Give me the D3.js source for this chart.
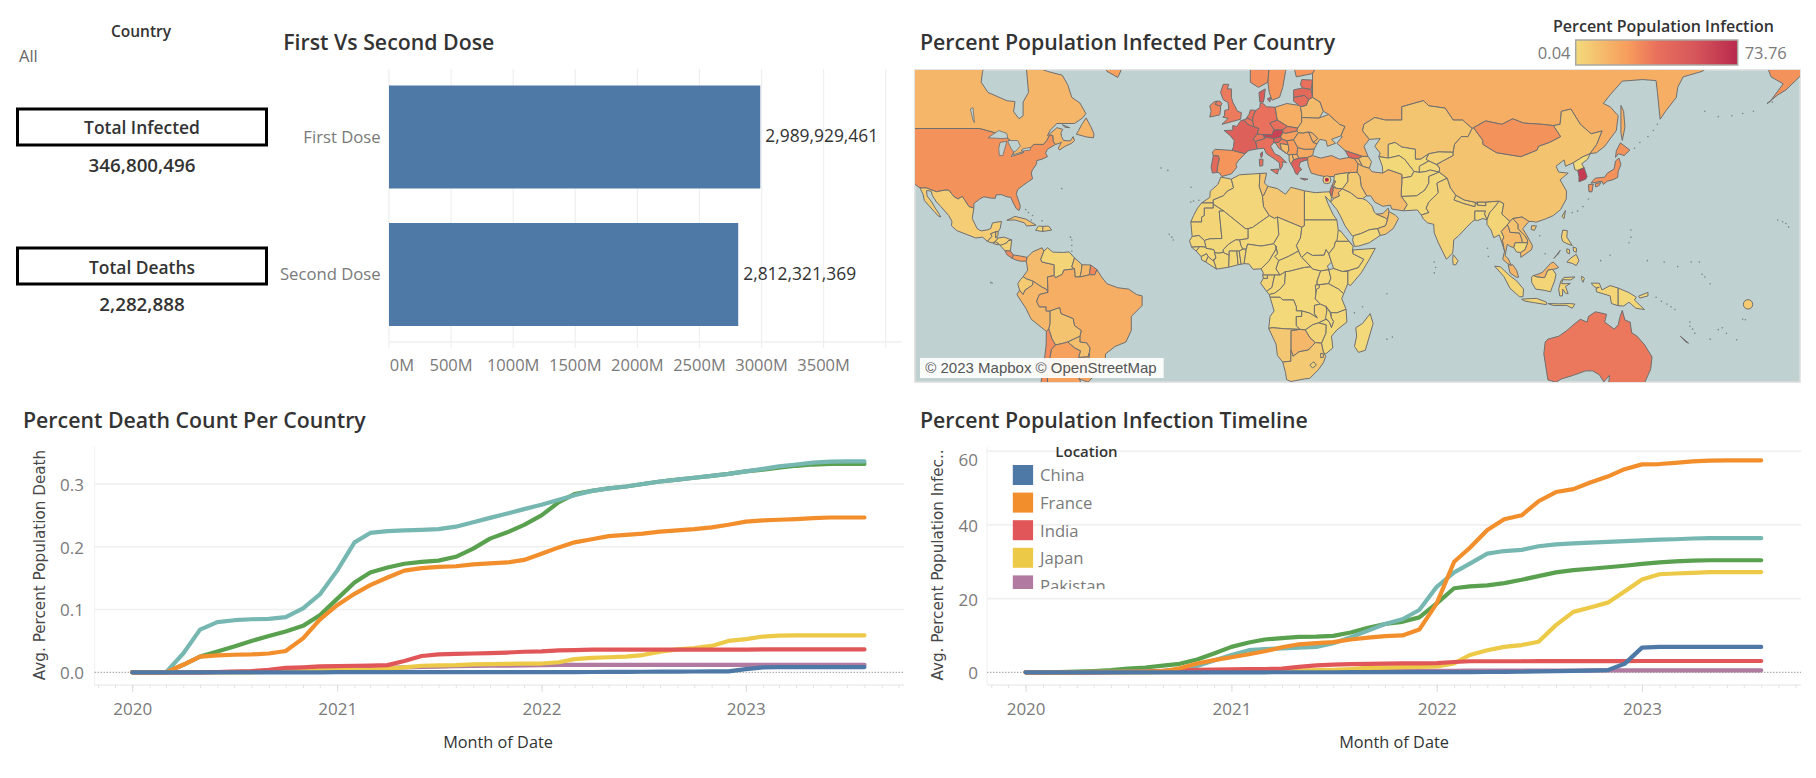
<!DOCTYPE html>
<html>
<head>
<meta charset="utf-8">
<script src="https://cdn.jsdelivr.net/npm/d3@7"></script>
<style>
  body { margin: 0; background: #fff; overflow: hidden; }
  text { font-family: "Open Sans", sans-serif; }
  .title { font-size: 21.3px; font-weight: 600; fill: #333; }
  .tick-label { font-size: 16.5px; fill: #7a7a7a; }
  .bold-label { font-size: 14.5px; font-weight: 600; fill: #333; }
  .axis-title { font-family: "DejaVu Sans", sans-serif; font-size: 15.2px; fill: #484848; }
</style>
</head>
<body>
<script>
// ---- data ----
var doseNames = ["First Dose", "Second Dose"];
var doseValues = [2989929461, 2812321369];
var doseTicks = [0, 500, 1000, 1500, 2000, 2500, 3000, 3500];

var kpiNames = ["Total Infected", "Total Deaths"];
var kpiValues = [346800496, 2282888];

var yearTicks = [2020, 2021, 2022, 2023];
var deathTicks = [0, 0.1, 0.2, 0.3];
var infectionTicks = [0, 20, 40, 60];

// Jan 2020 to Aug 2023, one value a month
var deathUK = [0,0,0,.03,.068,.080,.083,.0845,.085,.088,.102,.124, .162,.207,.222,.225,.226,.227,.228,.232,.239,.246,.253,.260, .267,.275,.282,.289,.293,.296,.300,.304,.307,.31,.313,.316, .32,.324,.328,.331,.334,.3355,.336,.336];
var deathUS = [0,0,0,.012,.025,.033,.041,.050,.058,.065,.074,.091, .117,.143,.159,.167,.173,.176,.178,.184,.197,.213,.223,.235, .25,.271,.284,.289,.293,.296,.30,.304,.307,.31,.313,.316, .32,.323,.326,.329,.331,.332,.332,.332];
var deathFrance = [0,0,0,.012,.025,.027,.028,.0285,.03,.034,.054,.084, .107,.125,.139,.151,.162,.166,.168,.169,.172,.1735,.175,.179, .189,.199,.207,.212,.217,.219,.221,.224,.226,.228,.231,.235, .24,.242,.243,.244,.2455,.2466,.2466,.2466];
var deathIndia = [0,0,0,0,0,.0005,.001,.002,.004,.007,.008,.0095, .010,.0105,.0108,.0115,.018,.026,.0285,.0295,.030,.0307,.0315,.0328, .0335,.035,.0355,.036,.036,.036,.036,.0362,.0362,.0362,.0363,.0363, .0363,.0364,.0364,.0365,.0365,.0365,.0365,.0365];
var deathJapan = [0,0,0,0,0,0,0,0,.0007,.001,.002,.003, .0035,.004,.0045,.006,.008,.0105,.011,.0115,.0127,.013,.0135,.0137, .014,.016,.021,.023,.024,.025,.0275,.033,.0365,.0385,.042,.05, .053,.057,.0585,.059,.059,.059,.059,.059];
var deathPakistan = [0,0,0,0,0,.0003,.0007,.001,.002,.003,.004,.005, .0058,.0062,.0065,.0072,.008,.0085,.0092,.0098,.0102,.0105,.0108,.011, .0113,.0117,.012,.012,.012,.012,.012,.012,.012,.012,.012,.012, .012,.012,.012,.012,.012,.012,.012,.012];
var deathChina = [0,0,0,0,0,0,0,0,0,0,0,0, .0002,.0002,.0002,.0002,.0002,.0002,.0002,.0002,.0002,.0002,.0002,.0002, .0003,.0003,.0004,.0005,.0006,.0007,.0009,.0011,.0012,.0013,.0014,.0015, .005,.008,.0083,.0083,.0083,.0083,.0083,.0083];

var infUK = [0,0,.01,.05,.1,.15,.2,.25,.3,.8,1.7,3.2, 4.7,6,6.3,6.5,6.7,6.9,7.9,9.5,11.3,13.1,14.4,16.9, 23.2,27.1,29.5,32.2,32.9,33.2,34.2,34.7,35,35.2,35.4,35.6, 35.8,36,36.1,36.3,36.4,36.4,36.4,36.4];
var infUS = [0,.02,.05,.2,.35,.6,1.0,1.3,1.8,2.3,3.5,5.1, 6.9,8.1,8.9,9.3,9.6,9.7,9.9,10.8,12.1,13.1,13.7,14.9, 18.7,22.8,23.3,23.6,24.2,25.1,26.1,27.1,27.7,28.1,28.5,28.9, 29.4,29.8,30.1,30.3,30.4,30.4,30.4,30.4];
var infFrance = [0,0,.01,.05,.1,.1,.12,.15,.3,1.1,2.4,3.3, 4.1,4.9,5.7,6.8,7.6,7.9,8.2,8.9,9.4,9.8,10,11.6, 18.7,30,33.8,38.6,41.5,42.6,46.4,48.9,49.7,51.5,53.1,55.1, 56.4,56.5,56.8,57.2,57.4,57.5,57.5,57.5];
var infIndia = [0,0,0,0,.01,.05,.1,.2,.4,.55,.7,.75, .8,.85,.9,1,1.5,1.9,2.1,2.2,2.3,2.35,2.4,2.4, 2.5,2.8,3,3,3,3,3.05,3.05,3.05,3.05,3.05,3.05, 3.07,3.07,3.07,3.07,3.07,3.07,3.07,3.07];
var infJapan = [0,0,0,0,0,0,0,.01,.02,.03,.05,.08, .1,.15,.2,.25,.5,.6,.7,.9,1.2,1.3,1.4,1.45, 1.6,2.4,4.7,6,6.9,7.4,8.3,12.8,16.4,17.6,18.9,21.9, 25.2,26.6,26.8,27,27.2,27.2,27.2,27.2];
var infPakistan = [0,0,0,0,.01,.03,.05,.07,.09,.1,.12,.14, .16,.18,.2,.22,.25,.28,.3,.32,.34,.36,.37,.38, .4,.42,.45,.46,.47,.48,.49,.5,.5,.51,.52,.52, .53,.54,.55,.55,.55,.55,.55,.55];
var infChina = [0,0,0,0,0,0,0,0,0,0,0,0, .01,.01,.01,.02,.02,.02,.02,.03,.03,.03,.03,.04, .05,.05,.06,.08,.1,.15,.25,.3,.4,.45,.6,2.3, 6.7,6.9,6.9,6.9,6.9,6.9,6.9,6.9];

var legendNames = ["China", "France", "India", "Japan", "Pakistan"];
var lineNames = ["Pakistan", "United States", "United Kingdom", "Japan", "India", "France", "China"];
var lineColors = ["#b07aa1", "#59a14f", "#76b7b2", "#edc948", "#e15759", "#f28e2b", "#4e79a7"];
var deathSeries = [deathPakistan, deathUS, deathUK, deathJapan, deathIndia, deathFrance, deathChina];
var infSeries = [infPakistan, infUS, infUK, infJapan, infIndia, infFrance, infChina];

// percent of population infected, by country, judged from the map shading
var legendRange = [0.04, 73.76];
var infectedByCountry = {
  USA:27, Canada:14, Alaska:27, Greenland:22, Mexico:5, Guatemala:5, Belize:9, Honduras:4, Salvador:3, Nicaragua:3,
  CostaRica:30, Panama:24, Cuba:9, Haiti:1, Dominican:6, Colombia:12, Venezuela:2, Guyana:9, Suriname:13, FrGuiana:30,
  Ecuador:6, Peru:13, Brazil:17, Bolivia:9, Paraguay:10, Chile:28, Argentina:22, Uruguay:22,
  UK:34, Ireland:30, France:48, Spain:26, Portugal:42, Belgium:36, Netherlands:40, Germany:37, Denmark:50, Switzerland:36,
  Austria:63, Italy:38, Poland:17, Czechia:38, Slovakia:33, Hungary:22, Slovenia:46, Croatia:32, Bosnia:12, Serbia:24,
  Albania:12, NMacedonia:16, Greece:48, Bulgaria:19, Romania:18, Moldova:16, Ukraine:13, Belarus:12, Lithuania:40,
  Latvia:42, Estonia:37, Norway:28, Sweden:26, Finland:26, Turkey:20, Georgia:44, Armenia:15, Azerbaijan:8, Russia:17,
  Kazakhstan:8, Uzbekistan:1, Turkmenistan:1, Kyrgyzstan:3, Tajikistan:1, Afghanistan:1, Pakistan:1, Iran:12, Iraq:6,
  Syria:1, Jordan:17, Israel:45, Lebanon:18, Cyprus:73.76, Saudi:2.5, UAE:11, Oman:8, Yemen:.5,
  Morocco:3, WSahara:2, Algeria:1.5, Mauritania:2, Mali:1, Tunisia:9, Libya:7, Egypt:1, Sudan:1, SouthSudan:1, Eritrea:1,
  Ethiopia:1, Somalia:1, Chad:.5, Niger:.5, Senegal:1, GuineaBissau:1, Guinea:1, SierraLeone:1, Liberia:1, IvoryCoast:1,
  Burkina:1, Ghana:1, Togo:1, Benin:1, Nigeria:.5, Cameroon:1, CAR:1, Gabon:2, EqGuinea:1, Congo:1, DRC:.5, Uganda:.5,
  Kenya:.8, Rwanda:1, Tanzania:.5, Angola:.5, Zambia:2, Malawi:.5, Mozambique:1, Zimbabwe:2, Botswana:13, Namibia:7,
  SouthAfrica:6.5, Lesotho:2, Eswatini:6, Madagascar:.5,
  India:3, SriLanka:3, Nepal:3, Bhutan:3, Bangladesh:1, Myanmar:2, China:9, Mongolia:27, NKorea:.1, SKorea:66, Japan:27,
  Taiwan:3, Thailand:12, Laos:9, Vietnam:12, Cambodia:1, Malaysia:14, Indonesia:2, PNG:1, Philippines:3, Australia:35,
  NewCaledonia:30
};

// country outlines as "lon,lat" rings (longitudes past 180 are the wrapped far right of the map)
var countryRings = {
  USA:["-125,49 -95,49 -89.5,48 -84.5,46.5 -82.5,45.3 -82.4,43 -83,42 -79,42.8 -79,43.5 -76.5,44 -75,45 -71.5,45 -70.3,46 -69.2,47.4 -68,47.3 -67.8,45.7 -67,45 -70,43.7 -70.7,42.7 -70,41.7 -72,41 -74,40.6 -74,39.7 -75.5,38 -76,37 -75.5,35.3 -77,34.5 -79,33.3 -81,32 -81.5,30.5 -80.5,28 -80,26.5 -80.5,25.2 -81.5,25.8 -82.8,28 -83.5,29.5 -85,29.7 -87,30.4 -89,30.3 -89.3,29.2 -91,29.3 -93.5,29.7 -95,29 -97.2,27.5 -97.2,26 -99,26.5 -100.5,28.5 -101.5,29.8 -103,29 -104.5,29.7 -106.5,31.8 -108.2,31.8 -111,31.3 -114.8,32.5 -117.1,32.5 -120.5,34.5 -122.5,37.5 -124.3,40 -124,44 -124.7,48.4"],
  Canada:["-141,72 -141,60 -130,55 -123,49 -95,49 -89.5,48 -84.5,46.5 -82.5,45.3 -82.4,43 -83,42 -79,42.8 -79,43.5 -76.5,44 -75,45 -71.5,45 -70.3,46 -69.2,47.4 -68,47.3 -67.8,45.7 -67,45 -65.5,45.3 -64.8,45.6 -66,44 -65.5,43.5 -63.5,44.5 -61,45.3 -60,46 -60.5,47 -61.5,45.9 -64,46 -64.8,47 -65,48 -64.3,48.8 -66.5,49.2 -70,47.2 -69,48.6 -66.5,50.2 -60,50.2 -57,51.5 -55.8,52.5 -58,54.8 -61,56 -62.5,58.5 -64.5,60.3 -70,61 -78,62.5 -77.5,60 -77,57 -79,55 -79,52 -80.5,51.3 -82.5,52.9 -82,55.1 -85,55.3 -92,57 -94.5,59 -94,61 -90,64 -90,72",
    "-59.3,47.6 -55.5,46.9 -53,46.7 -52.8,47.7 -54,49.5 -55.7,51.5 -57.3,50 -58.5,48.5", "-64.5,49.9 -61.8,49.2 -63.5,49.3"],
  Alaska:["195,72 194,65 196,62 197.5,60 202,58.7 197,55 196,54.7 200,56.5 203,57.5 206,59 208,60 212,60 219,60 219,72"],
  Greenland:["-53,67 -51,63 -48,61 -44,59.9 -42,62 -30,68 -20,72 -50,72"],
  Mexico:["-117.1,32.5 -114.8,32.5 -111,31.3 -108.2,31.8 -106.5,31.8 -104.5,29.7 -103,29 -101.5,29.8 -100.5,28.5 -99,26.5 -97.2,26 -97.8,22.5 -96,19 -94.5,18.2 -92,18.6 -91,19 -90.3,21 -87,21.5 -87.5,19 -88.2,18 -89.1,17.9 -91,17.2 -90.5,16.3 -92.2,14.5 -94,16 -96.5,15.7 -100,17 -103.5,18.3 -105.5,20 -105.3,21.5 -106.5,23.5 -109.4,26.5 -111,28 -112.5,30 -113,31.5 -114.7,31.7 -114.5,30 -112.8,28 -111.5,26 -110,24 -109.5,23 -110.3,23.3 -112,25 -114,27 -115.5,28.5 -116,30.5"],
  Guatemala:["-92.2,14.5 -90.5,16.3 -91,17.2 -89.1,17.9 -89.2,15.9 -88.2,15.7 -89.3,14.4 -90.5,13.9"],
  Belize:["-89.1,17.9 -88.2,18 -88.3,16.5 -89.2,15.9"],
  Honduras:["-89.3,14.4 -88.2,15.7 -86,16 -83.2,15 -84.5,14.7 -85,14 -87,13 -87.8,13.4"],
  Salvador:["-90,13.7 -89.3,14.4 -87.8,13.4 -88,13.2"],
  Nicaragua:["-87.5,13 -85,14 -84.5,14.7 -83.2,15 -83.7,11 -85.7,11.1"],
  CostaRica:["-85.7,11.1 -83.7,11 -82.6,9.6 -83,8.3 -85,9.7"],
  Panama:["-83,8.3 -82.6,9.6 -80,9.2 -77.5,8.7 -77.8,7.3 -80,7.3 -81.5,7.7"],
  Cuba:["-85,21.9 -82,23.2 -78,22.3 -74.2,20.2 -77.7,19.9 -78.5,21 -82,22"],
  Haiti:["-74.4,18.4 -71.7,18 -71.7,19.8 -73.3,19.9"],
  Dominican:["-71.7,18 -68.4,18.5 -69.6,19.9 -71.7,19.8"],
  Colombia:["-77.5,8.7 -75.5,10.7 -72,12.2 -71.3,11 -72.5,8 -72,7 -67.5,6 -67.5,2 -70,1.5 -69.8,-4.2 -70.5,-3 -72,-2.3 -75.3,-.1 -77.8,.8 -79,1.6 -77.3,4 -77.8,7.3"],
  Venezuela:["-71.3,11 -70,12.2 -68,10.6 -64,10.5 -62,10.7 -60,8.5 -61,5.2 -60,4.5 -64,4 -64.5,2.5 -67,1.2 -67.5,2 -67.5,6 -72,7 -72.5,8"],
  Guyana:["-60,8.5 -57.2,6 -57.5,3.5 -58,1.5 -59.8,1.5 -60,4.5 -61,5.2"],
  Suriname:["-57.2,6 -54,5.9 -54.5,2.3 -56,1.9 -58,1.5 -57.5,3.5"],
  FrGuiana:["-54,5.9 -51.7,4.2 -52.5,2.3 -54.5,2.3"],
  Ecuador:["-79,1.6 -77.8,.8 -75.3,-.1 -75.5,-1.5 -78.3,-3.4 -79,-5 -80.3,-3.4 -81,-1 -80,.5"],
  Peru:["-80.3,-3.4 -79,-5 -78.3,-3.4 -75.5,-1.5 -75.3,-.1 -72,-2.3 -70.5,-3 -69.8,-4.2 -73,-5 -74,-7.5 -73,-9.5 -70.5,-9.5 -70.5,-11 -69,-11 -69,-15.5 -69.5,-17.5 -70.4,-18.3 -76,-14 -78,-10 -81.3,-5"],
  Brazil:["-51.7,4.2 -50,1.5 -48,-1 -44,-2.5 -40,-3 -37,-5 -35,-5.5 -35,-9 -39,-13 -39,-18 -41,-22 -45,-23.5 -48.5,-26 -48.7,-28.5 -52,-32.5 -53.5,-33.7 -53.2,-32.7 -55,-31 -57.7,-30.2 -54.5,-27 -54.5,-25.6 -54.3,-24 -55.5,-22.3 -58,-22 -58,-20 -57.5,-18 -60,-16.3 -60.5,-13.8 -65,-12 -65.5,-9.8 -69,-11 -70.5,-11 -70.5,-9.5 -73,-9.5 -74,-7.5 -73,-5 -69.8,-4.2 -70,1.5 -67.5,2 -67,1.2 -64.5,2.5 -64,4 -60,4.5 -59.8,1.5 -58,1.5 -56,1.9 -54.5,2.3 -52.5,2.3"],
  Bolivia:["-69,-11 -65.5,-9.8 -65,-12 -60.5,-13.8 -60,-16.3 -57.5,-18 -58,-20 -62.5,-22 -64.5,-22.5 -67,-23 -68.3,-21 -69.5,-17.5 -69,-15.5"],
  Paraguay:["-58,-20 -58,-22 -55.5,-22.3 -54.3,-24 -54.5,-25.6 -55,-27 -58.5,-27.2 -57.8,-25 -60,-24 -62.5,-22"],
  Chile:["-70.4,-18.3 -69.5,-17.5 -68.3,-21 -67,-23 -68.5,-24.5 -69,-27 -70,-31 -70,-34 -70,-38 -73,-38 -72,-33 -71.5,-30 -71,-27 -70.5,-23"],
  Argentina:["-67,-23 -64.5,-22.5 -62.5,-22 -60,-24 -57.8,-25 -58.5,-27.2 -55,-27 -54.5,-25.6 -54.5,-27 -57.7,-30.2 -58.3,-34 -57,-36 -60,-38 -70,-38 -70,-34 -70,-31 -69,-27 -68.5,-24.5"],
  Uruguay:["-57.7,-30.2 -55,-31 -53.2,-32.7 -53.5,-33.7 -55,-35 -58.3,-34"],
  UK:["-5.5,50 -1.5,50.7 1.4,51.2 1.7,52.7 .3,53 -1.5,55 -2,56 -2,57.7 -3.5,57.7 -3,58.6 -5,58.6 -6,57 -5,55.5 -3.2,54.9 -3,53.4 -4.5,53.2 -4.5,52 -5.2,51.7 -3.2,51.4", "-8,54.5 -6,54.1 -5.5,54.7 -6.2,55.2 -7.4,55.2"],
  Ireland:["-10,51.7 -6.3,52.2 -6,53.5 -6,54.1 -8,54.5 -7.4,55.2 -8.5,55 -10,54.2 -9.5,53"],
  France:["-1.7,43.4 3,42.5 4.5,43.4 7.5,43.8 7,45.8 6,46.3 7.5,47.6 8.2,49 6.2,49.5 4.2,50 2.5,51 1.5,50.9 0,49.5 -1.5,49.7 -1.5,48.6 -4.7,48.5 -2.5,47.3 -1,46 -1.2,44.5", "8.7,42.5 9.5,43 9.5,42 9,41.4"],
  Spain:["-9,43 -8,43.7 -1.7,43.4 3,42.5 .5,40.5 -.3,39.5 0,38.7 -2,36.8 -5.5,36 -6.5,37.1 -7.4,37.2 -7,39.5 -6.5,41 -6.8,41.9 -8.7,42"],
  Portugal:["-8.7,42 -6.8,41.9 -6.5,41 -7,39.5 -7.4,37.2 -9,37 -9.5,38.7"],
  Belgium:["2.5,51.1 4.2,51.4 5.9,50.8 6.2,49.8 5.8,49.5 4.2,50"],
  Netherlands:["3.5,51.4 4.2,51.4 5.9,50.8 6,51.8 7,53.2 5,53.3 4.5,52.3"],
  Germany:["6,51.8 7,53.2 8.5,53.8 8.7,54.8 9.5,54.8 11,54 14.2,53.9 14.7,52 15,51 12.2,50.3 13.8,48.7 13,47.5 9.6,47.5 7.5,47.6 8.2,49 6.2,49.5 6.2,49.8 5.9,50.8"],
  Denmark:["8.5,55 8.2,57 10.5,57.7 10.2,56 9.8,55", "11.3,55.7 12.5,56 12.2,55"],
  Switzerland:["6,46.3 7,45.8 10.4,46.5 9.6,47.5 7.5,47.6"],
  Austria:["9.6,47.5 13,47.5 13.8,48.7 17,48.7 17,48 16.2,46.9 13.7,46.5 10.4,46.9"],
  Italy:["7,45.8 7.5,43.8 10,44 11,42.5 13.7,41.2 15.7,40 16,38 16.8,38.9 17,39.8 16.8,40.3 18.4,40 16,41.8 14,42.5 12.5,44.5 13.7,45.5 13.7,46.5 10.4,46.9 10.4,46.5", "12.5,38 15.5,38.2 15,36.7", "8.3,41 9.7,41 9.6,39.2 8.5,39"],
  Poland:["14.2,53.9 18.5,54.7 23,54.3 23.5,54 24,52.5 24,50.5 22.5,49.1 18.8,49.5 15,51 14.7,52"],
  Czechia:["12.2,50.3 15,51 18.8,49.5 17,48.7 13.8,48.7"],
  Slovakia:["17,48.7 18.8,49.5 22.5,49.1 22.2,48.4 18,47.8 17,48"],
  Hungary:["16.2,46.9 17,48 18,47.8 22.2,48.4 22.8,48 21,46.2 18.5,45.9 16.6,46.4"],
  Slovenia:["13.7,46.5 16.2,46.9 16.6,46.4 15.5,45.5 13.7,45.5"],
  Croatia:["13.7,45.5 15.5,45.5 16.6,46.4 18.5,45.9 19,44.9 16,45.2 16.5,43.7 18.5,42.5 15.5,44 14.5,45.2"],
  Bosnia:["16,45.2 19,44.9 19.3,43.5 18.5,42.5 16.5,43.7"],
  Serbia:["19,44.9 18.5,45.9 21,46.2 22.5,44.2 22.3,42.3 20.5,42.3 19.3,42.2 18.5,42.5 19.3,43.5"],
  Albania:["19.3,42.2 20.5,42.3 21,40.8 20,39.7 19.4,40.5"],
  NMacedonia:["20.5,42.3 22.3,42.3 23,41.3 21,40.8"],
  Greece:["20,39.7 21,40.8 23,41.3 26.2,41.5 26,40.8 23.5,40.2 23,39 24,38 23,37.5 22.5,36.5 21.7,36.9 21.2,38", "23.5,35.5 26.3,35.2 25,34.9"],
  Bulgaria:["22.5,44.2 25,43.7 28.6,43.8 28,42 26.2,41.5 23,41.3 22.3,42.3"],
  Romania:["22.8,48 24.5,47.9 26.5,48.2 28.2,45.5 29.7,45.2 28.6,43.8 25,43.7 22.5,44.2 21,46.2"],
  Moldova:["26.5,48.2 28,47.9 30,46.5 28.2,45.5"],
  Ukraine:["24,50.5 24,51.6 30.5,51.5 34,52.3 38,50 40,49.5 38.5,47.2 35,46.3 36.5,45.3 33.5,44.5 33,46 30.7,46.3 29.7,45.2 28.2,45.5 30,46.5 28,47.9 26.5,48.2 24.5,47.9 22.8,48 22.2,48.4 22.5,49.1"],
  Belarus:["23.5,54 24,52.5 24,51.6 30.5,51.5 32,53 30.8,55 28,56 26.6,55.6 25.7,54.3"],
  Lithuania:["21,56 25,56.4 26.6,55.6 25.7,54.3 23.5,54 23,54.3 21,55.2"],
  Latvia:["21,56 21,57.5 24.3,57.9 27.5,57.6 28,56 26.6,55.6 25,56.4"],
  Estonia:["23.5,58.5 24.3,57.9 27.5,57.6 28,59.4 24,59.5"],
  Norway:["5,59 5,62 12,66 22,72 12,62 11.5,59 8,58"],
  Sweden:["11.5,59 12,62 12,70 24,68 18,61 17,58 15.8,56 13,55.4 12,57"],
  Finland:["22,60 21,62 24,70 30,70 31,63 28,60.6"],
  Turkey:["26.2,41.5 28,42 31,41.3 35,42 38,41 41.5,41.5 43.5,41.2 44.8,39.7 44.5,37.2 42,37.2 38,36.8 36.2,36.5 36,36 32.5,36 30.5,36.3 27.5,37 26.5,39 26.2,40.2"],
  Georgia:["40,43.4 46.5,41.8 45,41.2 43.5,41.2 41.5,41.5"],
  Armenia:["43.5,41.2 45,41.2 46.5,39 44.8,39.7"],
  Azerbaijan:["45,41.2 46.5,41.8 48.5,41.8 49.8,40.3 49,38.4 46.5,39"],
  Russia:["28,59.4 28,56 30.8,55 32,53 34,52.3 38,50 40,49.5 38.5,47.2 39,47 37,45.3 40,43.4 46.5,41.8 48.5,41.8 47,44.5 49,46.3 47,48 46.5,48.5 47,50 51,51.6 55,51 61,51 61,54 69,55.3 71,54.2 77,53.7 80,51 83.5,51 87,49 87.5,49.2 92,50.8 98,50 102,51.3 106,50.3 113,50 117,49.7 119.5,50 120,53 123.5,53.5 127,50 131,47.7 135,48.4 133,45 131,43 130.6,42.5 133,42.8 136,44.5 140.3,48.5 141,52 138,54 135.5,54.7 138,56.5 142.5,59.2 150,59.5 155,59.3 155.5,57 156.5,51.2 158.5,53 162.5,56 163,58 165,60 172,61 178,63 180,65 190,66 190,72 30,72 30,70 31,63 28,60.6",
    "142,54.3 143,53 143.5,49.3 142.5,46 142,48 142,52"],
  Kazakhstan:["47,50 51,51.6 55,51 61,51 61,54 69,55.3 71,54.2 77,53.7 80,51 83.5,51 87,49 85.5,47 83,47 80.5,45 80,42.9 74.5,43 71,42.5 68,41 66,41 66,43.7 61,44.3 58.5,45.5 56,45 56,41.3 52.5,41.7 53,42.7 51,44.5 53,46.5 49,46.3 47,48 46.5,48.5"],
  Uzbekistan:["56,45 58.5,45.5 61,44.3 66,43.7 66,41 68,41 71,42.5 70,41 71,40.5 67.5,39 67.5,37.2 65.5,37.5 62,41 60,42 56,41.3"],
  Turkmenistan:["52.5,41.7 56,41.3 60,42 62,41 65.5,37.5 64.5,36 61,35.5 61,36.6 56,38 54,37 53.8,39"],
  Kyrgyzstan:["71,42.5 74.5,43 80,42.9 80,42 76,40.4 73.7,39.5 71,40.5 70,41"],
  Tajikistan:["67.5,39 71,40.5 73.7,39.5 75,38.5 74.8,37.3 71.5,37.9 70,37.5 67.5,37.2"],
  Afghanistan:["61,35.5 64.5,36 65.5,37.5 67.5,37.2 70,37.5 71.5,37.9 74.8,37.3 71,36 71,34 69.5,31.8 66.5,30 60.8,29.8 60.8,31.5 61,34"],
  Pakistan:["60.8,29.8 66.5,30 69.5,31.8 71,34 71,36 74.8,37.3 77.8,35.5 74,34 74.5,31 71,28 70,26 71,24.5 68.2,23.7 66.7,25.4 61.6,25.1 63,27.2"],
  Iran:["44.8,39.7 46.5,39 49,38.4 50,37.4 54,37 56,38 61,36.6 61,35.5 61,34 60.8,31.5 60.8,29.8 63,27.2 61.6,25.1 57.3,25.7 56.8,27 54,26.6 51,28 49.5,30 48,30 46,33 45.5,36 44.5,37.2"],
  Iraq:["44.5,37.2 45.5,36 46,33 48,30 46.5,29.1 44.7,29.2 42,31 39,32.2 41,34.5 41,36.7 42,37.2"],
  Syria:["36.2,36.5 38,36.8 42,37.2 41,36.7 41,34.5 39,32.2 36.8,32.4 35.8,33.3 36.5,34.6 35.9,34.6 36,36"],
  Jordan:["36.8,32.4 39,32.2 37.5,31 38,30 36,29.2 35,29.5 35.5,31.5 35.6,32.7"],
  Israel:["34.3,31.3 35,29.5 35.5,31.5 35.6,33.2 35,33"],
  Lebanon:["35.1,33.1 35.8,33.3 36.5,34.6 35.9,34.6"],
  Saudi:["36,29.2 38,30 37.5,31 39,32.2 42,31 44.7,29.2 46.5,29.1 48,28.5 50,26.7 50.8,24.7 51.6,24 55,22.7 55.7,22 55,20 52,19 49,18.6 46,17.3 43.2,16.5 42.7,16.4 40,20 38.5,23 37,25.5 34.7,28"],
  UAE:["51.6,24 54,24.2 56,26 56.3,24.8 55.7,22 55,22.7"],
  Oman:["56.3,24.8 58.7,23.6 59.8,22.5 57.8,19 55,17 53,16.6 52,19 55,20 55.7,22"],
  Yemen:["43.2,16.5 46,17.3 49,18.6 52,19 53,16.6 49,14 45,12.8 43.5,12.7 42.8,15"],
  Morocco:["-5.9,35.8 -2,35.2 -1.2,32.5 -3.5,31.5 -5,30 -8.7,28.7 -8.7,27.7 -13,27.7 -10,29.5 -9.8,31.5 -7,33.6"],
  WSahara:["-13,27.7 -8.7,27.7 -8.7,26 -12,26 -12,23.5 -13,23 -13,21.3 -17,21.3 -16,23.5 -14.5,26"],
  Algeria:["-2,35.2 1,36.5 8.6,36.9 8.3,33 9.5,30 9.9,26.5 12,23.5 5.8,19.4 4.2,19 3.2,19 -4.8,25 -8.7,27.3 -8.7,28.7 -5,30 -3.5,31.5 -1.2,32.5"],
  Mauritania:["-17,21.3 -13,21.3 -13,23 -12,23.5 -12,26 -8.7,26 -8.7,27.3 -4.8,25 -6.5,25 -5.5,15.5 -10,15.4 -12,14.8 -14,16.6 -16.5,16.2"],
  Mali:["-12,14.8 -10,15.4 -5.5,15.5 -6.5,25 -4.8,25 3.2,19 4.2,19 4.2,15.5 1,15 -.5,15 -3,13.5 -5,11.5 -5,10.5 -7,10.2 -8.2,10.5 -8.5,11.5 -11.4,12"],
  Tunisia:["8.6,36.9 11,37 10.2,34 11.5,33 10,30.2 9.5,30 8.3,33"],
  Libya:["9.5,30 10,30.2 11.5,33 15,32.3 18,30.5 20,32.7 25,31.6 25,20 24,19.5 15,23 14,22.5 12,23.5 9.9,26.5"],
  Egypt:["25,31.6 29,31 32,31.2 34.3,31.3 35,29.5 34.7,28 32.7,29.9 33.7,27.5 35.5,24 37,22 25,22"],
  Sudan:["25,22 37,22 37.5,18.5 38.5,18 37,14.5 36.5,14.5 36,12.5 34,10 33,11.5 32.3,9.5 28,9.4 26,10.5 24,8.7 23.7,9 22.8,11 22,13 23.5,15.7 24,19.5 25,20"],
  SouthSudan:["24,8.7 26,10.5 28,9.4 32.3,9.5 33,11.5 34,10 35,7 33.5,5.5 34,4.2 31,3.7 28,4.4 27.4,5.2"],
  Eritrea:["37.5,18.5 38.5,18 43,12.7 41.5,14.5 37,14.5"],
  Ethiopia:["36.5,14.5 37,14.5 41.5,14.5 43,12.7 42.7,11 43,10 47,8 44.9,4.9 41.9,4 39,3.5 35.8,4.6 35,7 34,10 36,12.5"],
  Somalia:["43,11.4 51.2,12 49,8 46,3 42,-1.7 41,-1 41,3.5 41.9,4 44.9,4.9 47,8 43,10"],
  Chad:["15,23 24,19.5 23.5,15.7 22,13 22.8,11 19,9 15.5,7.5 14,9 15,10 14.5,12.8 13.5,13.6 15.5,16.9"],
  Niger:["4.2,19 5.8,19.4 12,23.5 14,22.5 15,23 15.5,16.9 13.5,13.6 9,12.8 4,13.5 3.5,11.7 2.3,11.7 1.5,13 1,15 4.2,15.5"],
  Senegal:["-17.5,14.7 -16.5,16.2 -14,16.6 -12,14.8 -11.4,12.4 -13.7,12.6 -16.7,12.4"],
  GuineaBissau:["-16.7,12.4 -13.7,12.6 -15,11"],
  Guinea:["-13.7,12.6 -11.4,12.4 -11.4,12 -8.5,11.5 -8.2,10.5 -7.7,8.5 -9,7.6 -10.6,9 -11.2,10 -13.2,9 -15,11"],
  SierraLeone:["-13.2,9 -11.2,10 -10.6,9 -11.5,7 -13,7.8"],
  Liberia:["-11.5,7 -10.6,9 -9,7.6 -8.5,7.5 -7.5,4.4"],
  IvoryCoast:["-8.5,7.5 -7.7,8.5 -8.2,10.5 -7,10.2 -5,10.5 -2.8,9.5 -3,5.1 -7.5,4.4"],
  Burkina:["-5,10.5 -5,11.5 -3,13.5 -.5,15 1,15 1.5,13 2.3,11.7 .9,11 0,11 -2.8,11 -2.8,9.5"],
  Ghana:["-2.8,11 0,11 .5,6 -3,5.1 -2.8,9.5"],
  Togo:["0,11 .9,11 1.6,6.2 .5,6"],
  Benin:[".9,11 2.3,11.7 3.5,11.7 2.7,6.4 1.6,6.2"],
  Nigeria:["2.7,6.4 3.5,11.7 4,13.5 9,12.8 13.5,13.6 14.5,12.8 14.5,11.7 12,7.5 9,4.5 6,4.3 4.5,6.3"],
  Cameroon:["9,4.5 12,7.5 14.5,11.7 14.5,12.8 15,10 14,9 15.5,7.5 14.5,4.5 16,2.2 11.3,2.2 9.6,2.2 9.8,3"],
  CAR:["14.5,4.5 15.5,7.5 19,9 22.8,11 23.7,9 24,8.7 27.4,5.2 25,5 19,3.5 18,3.5 16,2.2"],
  Gabon:["9.8,1 11.3,1 11.3,2.2 14,2.2 13,-2.4 11,-3.8 8.8,-.8"],
  EqGuinea:["9.6,2.2 11.3,2.2 11.3,1 9.8,1"],
  Congo:["14,2.2 16,2.2 18,3.5 17.7,-1 16,-3 14,-4.5 12,-5 11,-3.8 13,-2.4"],
  DRC:["18,3.5 19,3.5 25,5 27.4,5.2 28,4.4 31,3.7 29.7,0 29.5,-3 29,-6.5 30.8,-8.5 28.7,-9 28.7,-12 29.8,-13.5 27,-11.8 24,-11 22,-11 22,-9.5 21,-7 17,-7 16,-6 12.3,-6 12,-5 14,-4.5 16,-3 17.7,-1"],
  Uganda:["31,3.7 34,4.2 34.8,1 33.9,-1 29.7,-1.4 29.7,0"],
  Kenya:["34,4.2 35.8,4.6 39,3.5 41,3.5 41,-1 39.5,-4.7 37.6,-3 33.9,-1 34.8,1"],
  Rwanda:["29,-1.5 30.5,-1.4 30.7,-2.5 30.5,-4.4 29.3,-4.4"],
  Tanzania:["33.9,-1 37.6,-3 39.5,-4.7 38.8,-6.5 40.4,-10.4 37,-11.7 34.8,-11.6 33,-9.4 30.8,-8.5 29,-6.5 29.5,-3 30.5,-2.5 30.5,-1.4"],
  Angola:["12.3,-6 16,-6 17,-7 21,-7 22,-9.5 22,-11 24,-11 24,-13 22,-13 22,-16.3 23.4,-17.6 18,-17.4 13,-17 11.8,-17.3 12.3,-13 13.8,-11"],
  Zambia:["22,-13 24,-13 24,-11 27,-11.8 29.8,-13.5 28.7,-12 28.7,-9 30.8,-8.5 33,-9.4 33.3,-11 33,-14 30.2,-15.3 28,-16 25.3,-17.8 23.4,-17.6 22,-16.3"],
  Malawi:["33,-9.4 34.5,-11.6 35,-13.5 35.8,-14.8 35,-17 34.2,-15 32.8,-13.5 33.3,-11"],
  Mozambique:["34.8,-11.6 37,-11.7 40.4,-10.4 40.7,-15 37,-17.8 35,-20 35.5,-24 32.9,-26 32,-25.5 31.3,-22.4 32.9,-19 33,-16 30.2,-15.3 33,-14 34.2,-15 35,-17 35.8,-14.8 35,-13.5"],
  Zimbabwe:["25.3,-17.8 28,-16 30.2,-15.3 33,-16 32.9,-19 31.3,-22.4 29,-22.2 27,-20.5"],
  Botswana:["20,-22 20,-18 23.4,-17.6 25.3,-17.8 27,-20.5 29,-22.2 26.5,-24.7 23,-25.3 20.8,-26.8 20,-24.7"],
  Namibia:["11.8,-17.3 13,-17 18,-17.4 23.4,-17.6 20,-18 20,-24.7 20,-28.4 17,-28.7 15,-26.5 14.5,-22.7"],
  SouthAfrica:["17,-28.7 20,-28.4 20,-24.7 20.8,-26.8 23,-25.3 26.5,-24.7 29,-22.2 31.3,-22.4 32,-25.5 32.9,-26.8 32,-28.9 30,-31.3 27,-33.8 25,-34 20,-34.8 18.4,-34.2 18,-32"],
  Lesotho:["27,-29.6 28.5,-28.6 29.4,-29.7 28,-30.6"],
  Eswatini:["31,-25.8 32,-26 32,-27.2 31,-27.2"],
  Madagascar:["49.3,-12 50.4,-15.5 47.5,-24.8 45,-25.5 43.5,-23.5 44.3,-20 44,-17 46.5,-15.5"],
  India:["68.2,23.7 71,24.5 70,26 71,28 74.5,31 74,34 77.8,35.5 79,32.5 81,30.2 80.3,28.7 84,27.5 88,26.5 88.2,27.9 89,27 92,26.8 92,28 97,28.3 95,26 93.5,24.5 92.5,22 91.5,24.2 92,25 88,25 88,22 87,21.4 85,19.5 82,16.5 80.2,15 80,12 79.8,10.3 77.5,8 76,11 74.5,14 73,17.5 72.8,20.5 70.5,21 69,22.3"],
  SriLanka:["80,9.7 81.8,7.5 81,6 80,6 79.8,8"],
  Nepal:["80.3,28.7 81,30.2 84,28.7 88.2,27.9 88,26.5 84,27.5"],
  Bhutan:["89,27 89,28 92,28 92,26.8"],
  Bangladesh:["88,25 92,25 91.5,24.2 92.5,22 91,22.5 89,21.8 88,22"],
  Myanmar:["92.5,22 93.5,24.5 95,26 97,28.3 98.7,27.5 98,24 101,21.5 100,20.3 97.8,18 98.7,16 98.2,14.8 99,11 98,14 97,16.8 95,15.8 94,18.5 92.5,20.5"],
  China:["74,39.5 76,40.4 80,42 80,42.9 80.5,45 83,47 85.5,47 87,49 87.5,49.2 91,46 91,45 96,42.8 105,41.7 111,43.5 111.5,44.5 115.5,45.5 119.7,47 117,49.7 119.5,50 120,53 123.5,53.5 127,50 131,47.7 135,48.4 133,45 131,43 130.6,42.5 128,41.7 124.4,40 121.5,39 121,40.8 118,39 119,37.3 122.5,37 119.5,35 121.9,31.5 121.8,29 119.7,25.5 117,23.5 114,22.3 110.5,21.2 109.6,21.5 108,21.5 105.5,23 102,22.5 101,21.5 98,24 98.7,27.5 97,28.3 92,28 89,28 88.2,27.9 84,28.7 81,30.2 79,32.5 77.8,35.5 74.8,37.3 75,38.5", "109,20 110.8,20 110,18.4 108.8,18.7"],
  Mongolia:["87.5,49.2 92,50.8 98,50 102,51.3 106,50.3 113,50 117,49.7 119.7,47 115.5,45.5 111.5,44.5 111,43.5 105,41.7 96,42.8 91,45 91,46"],
  NKorea:["124.4,40 128,41.7 130.6,42.5 129.7,41 127.5,39.7 128.4,38.6 126,37.8 125,38"],
  SKorea:["126,37.8 128.4,38.6 129.5,36 129,35.2 126.5,34.4 126.5,36"],
  Japan:["130.9,34 132.5,35.5 136,35.8 137,37 139.5,38.2 140,40.5 141.3,41.3 142,39.5 141,37.5 140.8,35.7 139,35 137,34.6 135.5,33.6 135,34.6 132.5,34.2", "130,33.5 131.8,33.7 131.3,31.3 130.2,31.3", "132.5,33.8 134.6,34.2 134,33.3 132.7,32.8", "140,41.5 140.3,43.3 141.8,45.4 145.3,43.5 143.2,42 141,42.5"],
  Taiwan:["121.5,25.2 121,22.5 120.2,23.2"],
  Thailand:["97.8,18 100,20.3 100.5,19.5 101,17.7 104.5,17.5 105.5,15 105.5,14 102.9,14 102.4,12.2 101,12.7 100,13.5 99.5,11 99.2,9.3 100.3,8.3 101,6.8 101.5,5.8 100,6.5 98.3,8 99,11 98.2,14.8 98.7,16"],
  Laos:["100.5,19.5 100,20.3 101,21.5 102,22.5 104,20.5 104,19 106.5,16.5 107.5,15 107.5,14 105.5,14 105.5,15 104.5,17.5 101,17.7"],
  Vietnam:["102,22.5 105.5,23 108,21.5 105.7,19 107,17 109.3,13 109,11.5 105,8.7 104.9,10.5 106.5,11.5 107.5,14 107.5,15 106.5,16.5 104,19 104,20.5"],
  Cambodia:["102.4,12.2 102.9,14 105.5,14 107.5,14 106.5,11.5 104.9,10.5 103.5,10.6"],
  Malaysia:["100.3,6 101.5,5.8 102,6 103.4,4 104.2,1.4 103.3,1.4 101,3", "109.6,2 111,1.5 113.8,1.2 115,4 116.7,4.3 118,4.5 119,5 117,7 116,6.5 113,3.2 111.3,2.5"],
  Indonesia:["109,1.5 109.6,2 111,1.5 113.8,1.2 115,4 116.7,4.3 118,2.5 117.5,0 116.5,-2.5 116,-4 114,-3.5 110.5,-3 109,-.5",
    "95.3,5.5 97.5,5.2 100.5,2.3 103.5,0 106,-3 105.8,-5.8 104.5,-5.8 101,-2.7 98.7,1.7",
    "105.3,-6.7 108.5,-6.5 110.8,-6.4 114.5,-7.8 114.4,-8.7 110,-8 106.5,-7.4",
    "119.4,-5.5 119,-3 119.8,0 120.9,1.3 125,1.5 123.5,.4 120.5,.5 120.1,-1 121.7,-1 123.3,-.9 121.5,-2 122.5,-4.7 121.5,-4.5 120.5,-3 120.4,-5.5",
    "115,-8.3 119,-8.4 122.9,-8.3 125,-8.5 124,-10 122,-9 117,-9",
    "127.5,1.8 128.5,1 128,-.5 127.5,.5",
    "131,-.8 134,-.8 135,-3.3 138,-1.7 141,-2.6 141,-9.1 138.5,-8.3 138,-5.5 133,-4 132.8,-2.8 134,-2.3 133,-2.5 132,-2"],
  PNG:["141,-2.6 145,-4.3 147.7,-6 147,-7 150.7,-10.5 147.5,-10 145,-7.8 143,-9.2 141,-9.1", "148.5,-5.6 152,-4.2 152,-5.5 149,-6.3"],
  Philippines:["120.5,18.5 122.2,18.3 122,16 124,13 122,13.7 120.5,14.5 120,16", "122,7 123.5,8.5 125.5,9.8 126.5,7.5 125.5,5.7 124,6.5", "117.2,8.3 119.6,11.3 118.8,9.9", "122,11.8 123,11.5 123,10 122,10.5", "124.3,12.5 125.6,12 125.5,10.5 124.5,11"],
  Australia:["114,-22 113.5,-26 115,-34.3 118,-35 120,-34 124,-33 129,-31.5 131.5,-31.5 134,-32.7 135.7,-34.9 137.8,-32.9 137.5,-35.2 139,-35.8 141,-39 150,-39 150.3,-36 153,-31 153.5,-27 150.8,-23 148,-20 146,-18.8 145.4,-15 143.5,-14.3 142.5,-10.8 141.7,-13 141,-16 139.5,-17.5 136,-15 136.7,-12.2 132.6,-11.3 130,-13 129.5,-15 127,-14 125,-15.5 122,-18 119,-20 115,-21"],
  NewCaledonia:["164,-20 167,-22.4 166,-22"]
};

var lakeRings = [
  "-92,46.7 -88,48.5 -85,47.8 -84.7,46.6 -87,46.5",
  "-87.8,42 -86.5,42 -85,45.8 -87.5,45.5 -88,44",
  "-84.5,46 -81,46 -80,44.6 -81.7,43.2 -82.5,43 -83.5,44 -84.5,45.5",
  "-83.4,41.7 -79,42.8 -79.2,43 -83,42.2",
  "-79.7,43.2 -76.3,43.5 -76.3,44.2 -79.3,43.8",
  "-97,50.4 -97.5,53.8 -98.5,53.5 -97.5,51"
];

// tiny islands, only specks at this zoom
var isletPoints = [[-16,28.3],[-14,28.6],[-17,28],[-25.5,37.8],[-28,38.5],[-24,16],[-23.5,15],[-25,17],[-16.9,32.7],
  [-64.7,32.3],[-77,24.5],[-75.5,23.5],[-78,25.5],[-76,22],[-72,21.7],[-61,15],[-61.5,16],[-61,13],[-61,11],[-91,-.5],[-90.5,-.8],
  [198,55],[191,53],[187,52.5],[183,52],[178,51.8],[173,53],[204,19.6],[203,20.8],[201.8,21.4],[200,22],
  [147,44],[149,45.5],[152,47],[154,48.5],[155.5,50],[145,14],[145.7,16],[145.7,18.5],[134.5,7.5],[138,9.5],[151.8,7.5],[158,7],[163,5.3],[168,7],[171,7],
  [155,-6],[157,-7.5],[159,-8.5],[160.5,-9.5],[162,-10.5],[167.5,-15],[167.5,-16.5],[168.5,-17.5],[169.3,-19],
  [178,-17.7],[179.5,-17],[181,-19],[175,-21],[184.8,-21.2],[187,-14],[188,-14.2],[173,1.5],[175,-1],[172,2.5],
  [73,3],[73.5,5],[73,7],[55.5,-4.7],[57.5,-20.3],[55.5,-21],[46.5,-9.5],[43.5,-11.7],[92.7,12],[93,9],[126,25],[128,26.5],[124,24.5],[130,29],
  [112,16.5],[114,10]];

// tableau draws these tiny areas with a ring round them
var ringedPoints = [["Cyprus", 33.3, 35], ["Tokelau", -171 + 360, -8.6]];
var ringedValues = [3, 6];

// ---- page ----
var width = 1816;
var height = 778;

var svg = d3.select("body").append("svg")
  .attr("width", width)
  .attr("height", height);

var fmt = d3.format(",");

function title(x, y, str) {
  svg.append("text").attr("class", "title").attr("x", x).attr("y", y).attr("dy", "0.35em").text(str);
}

// ---- left column: filter and the two totals ----
svg.append("text").attr("class", "bold-label").attr("x", 141).attr("y", 32).attr("dy", "0.35em")
  .attr("text-anchor", "middle").style("font-size", "15.5px").text("Country");
svg.append("text").attr("x", 19).attr("y", 56).attr("dy", "0.35em")
  .style("font-size", "16.5px").style("fill", "#666").text("All");

var kpiBoxes = [[109, 128, 165], [248, 267.5, 304]];
kpiNames.forEach(function(name, i) {
  svg.append("rect").attr("x", 17.5).attr("y", kpiBoxes[i][0]).attr("width", 249).attr("height", 36)
    .attr("fill", "none").attr("stroke", "#000").attr("stroke-width", 3);
  svg.append("text").attr("class", "bold-label").attr("x", 142).attr("y", kpiBoxes[i][1]).attr("dy", "0.35em")
    .attr("text-anchor", "middle").style("font-size", "17.4px").text(name);
  svg.append("text").attr("class", "bold-label").attr("x", 142).attr("y", kpiBoxes[i][2]).attr("dy", "0.35em")
    .attr("text-anchor", "middle").style("font-size", "18.8px").text(fmt(kpiValues[i]));
});

// ---- bars ----
title(283.2, 42.5, "First Vs Second Dose");

var barX = d3.scaleLinear().domain([0, 4000]).range([389, 885.7]);
var barY = d3.scaleBand().domain(doseNames).range([63.5, 348]).paddingInner(0.251).paddingOuter(0.16);

svg.append("g").selectAll("line").data(doseTicks.concat([4000])).enter().append("line")
  .attr("x1", function(d) { return barX(d); }).attr("x2", function(d) { return barX(d); })
  .attr("y1", 69).attr("y2", 348)
  .attr("stroke", "#efefef").attr("stroke-width", 1.2);
svg.append("line").attr("x1", 389).attr("x2", 902).attr("y1", 342).attr("y2", 342)
  .attr("stroke", "#efefef").attr("stroke-width", 1.5);

svg.append("g").selectAll("rect").data(doseValues).enter().append("rect")
  .attr("x", barX(0))
  .attr("y", function(d, i) { return barY(doseNames[i]); })
  .attr("width", function(d) { return barX(d / 1e6) - barX(0); })
  .attr("height", barY.bandwidth())
  .attr("fill", "#4e79a7");

svg.append("g").selectAll("text").data(doseValues).enter().append("text")
  .attr("x", function(d) { return barX(d / 1e6) + 5; })
  .attr("y", function(d, i) { return barY(doseNames[i]) + barY.bandwidth() / 2 - 1; })
  .attr("dy", "0.35em")
  .style("font-size", "17.4px").style("fill", "#333")
  .text(function(d) { return fmt(d); });

svg.append("g").selectAll("text").data(doseNames).enter().append("text")
  .attr("class", "tick-label")
  .attr("x", 380.7)
  .attr("y", function(d) { return barY(d) + barY.bandwidth() / 2; })
  .attr("dy", "0.35em").attr("text-anchor", "end")
  .style("font-size", "16.7px")
  .text(function(d) { return d; });

svg.append("g").selectAll("text").data(doseTicks).enter().append("text")
  .attr("class", "tick-label")
  .attr("x", function(d) { return d === 0 ? barX(d) + 13 : barX(d); })
  .attr("y", 365).attr("dy", "0.35em").attr("text-anchor", "middle")
  .text(function(d) { return d + "M"; });

// ---- map ----
title(920, 42.5, "Percent Population Infected Per Country");

var mapX = d3.scaleLinear().domain([0, 100]).range([1236.8, 1507.3]);
var mapY = d3.scaleLinear().domain([0, 1]).range([281, 126]);

function mercator(lat) { return d3.geoMercatorRaw(0, lat * Math.PI / 180)[1]; }

var mapPath = d3.geoPath(d3.geoTransform({
  point: function(lon, lat) { this.stream.point(mapX(lon), mapY(mercator(lat))); }
}));

var infectionColor = d3.scaleLinear()
  .domain([0.04, 24, 37, 55, 73.76])
  .range(["#f3da7b", "#f79c5c", "#e9705c", "#d5555a", "#b9294c"])
  .interpolate(d3.interpolateRgb);

function parseRing(str) {
  var ring = str.split(" ").map(function(p) { return p.split(",").map(Number); });
  ring.push(ring[0]);
  return ring;
}

var defs = svg.append("defs");
defs.append("clipPath").attr("id", "map-clip").append("rect")
  .attr("x", 915).attr("y", 70).attr("width", 885).attr("height", 312);

var mapBox = svg.append("g");
mapBox.append("rect").attr("x", 915).attr("y", 70).attr("width", 885).attr("height", 312)
  .attr("fill", "#bfd1d1").attr("stroke", "#dcdcdc").attr("stroke-width", 1.5);

var mapGroup = mapBox.append("g").attr("clip-path", "url(#map-clip)");

var countryFeatures = Object.keys(countryRings).map(function(name) {
  return {
    type: "Feature",
    properties: { name: name, value: infectedByCountry[name] },
    geometry: { type: "MultiPolygon", coordinates: countryRings[name].map(function(r) { return [parseRing(r)]; }) }
  };
});

mapGroup.append("g").selectAll("path").data(countryFeatures).enter().append("path")
  .attr("d", mapPath)
  .attr("fill", function(d) { return infectionColor(d.properties.value); })
  .attr("stroke", "#6f6f6f").attr("stroke-width", 1).attr("stroke-linejoin", "round");

mapGroup.append("g").selectAll("path").data(lakeRings).enter().append("path")
  .attr("d", function(d) { return mapPath({ type: "Polygon", coordinates: [parseRing(d)] }); })
  .attr("fill", "#bfd1d1").attr("stroke", "#6f6f6f").attr("stroke-width", 0.8);

mapGroup.append("g").selectAll("circle").data(isletPoints).enter().append("circle")
  .attr("cx", function(d) { return mapX(d[0]); })
  .attr("cy", function(d) { return mapY(mercator(d[1])); })
  .attr("r", 0.8).attr("fill", "#7d8485");

mapGroup.append("g").selectAll("circle").data(ringedPoints).enter().append("circle")
  .attr("cx", function(d) { return mapX(d[1]); })
  .attr("cy", function(d) { return mapY(mercator(d[2])); })
  .attr("r", function(d, i) { return i === 0 ? 4 : 4.7; })
  .attr("fill", function(d, i) { return infectionColor(ringedValues[i]); })
  .attr("stroke", "#6f6f6f").attr("stroke-width", 1);

// the real cyprus sits inside its ring
mapGroup.append("circle")
  .attr("cx", mapX(33.3)).attr("cy", mapY(mercator(35)))
  .attr("r", 2).attr("fill", infectionColor(legendRange[1]));

mapBox.append("rect").attr("x", 920).attr("y", 358).attr("width", 243.7).attr("height", 20).attr("fill", "#fff").attr("opacity", 0.92);
mapBox.append("text").attr("x", 925.3).attr("y", 368).attr("dy", "0.35em")
  .style("font-family", "'Liberation Sans', sans-serif").style("font-size", "15px").style("fill", "#555")
  .text("© 2023 Mapbox © OpenStreetMap");

// colour legend
var gradient = defs.append("linearGradient").attr("id", "legend-gradient");
infectionColor.domain().forEach(function(v) {
  gradient.append("stop")
    .attr("offset", (v - legendRange[0]) / (legendRange[1] - legendRange[0]))
    .attr("stop-color", infectionColor(v));
});
svg.append("text").attr("class", "bold-label").attr("x", 1663.4).attr("y", 26).attr("dy", "0.35em")
  .attr("text-anchor", "middle").style("font-size", "16px").text("Percent Population Infection");
svg.append("rect").attr("x", 1575.7).attr("y", 40).attr("width", 162).attr("height", 25)
  .attr("fill", "url(#legend-gradient)").attr("stroke", "#a8a8a0").attr("stroke-width", 1.5);
svg.append("text").attr("class", "tick-label").attr("x", 1570.5).attr("y", 53).attr("dy", "0.35em")
  .attr("text-anchor", "end").text(legendRange[0]);
svg.append("text").attr("class", "tick-label").attr("x", 1744.7).attr("y", 53).attr("dy", "0.35em")
  .text(legendRange[1]);

// ---- line charts ----
var months = d3.timeMonth.range(new Date(2020, 0, 1), new Date(2023, 8, 1));

function lineChart(opts) {
  var x = d3.scaleTime()
    .domain([new Date(2020, 0, 1), new Date(2023, 0, 1)])
    .range([opts.x2020, opts.x2023]);
  var y = d3.scaleLinear().domain(opts.domain).range([685, 446.7]);
  var g = svg.append("g");

  // grid lines
  g.append("g").selectAll("line").data(opts.ticks.filter(function(d) { return d !== 0; })).enter().append("line")
    .attr("x1", opts.left).attr("x2", opts.right)
    .attr("y1", function(d) { return y(d); }).attr("y2", function(d) { return y(d); })
    .attr("stroke", "#f0f0f0").attr("stroke-width", 1.6);
  g.append("line").attr("x1", opts.left).attr("x2", opts.left).attr("y1", 446.7).attr("y2", 685)
    .attr("stroke", "#f0f0f0");

  // x axis, monthly minor ticks then the years
  var minor = d3.timeMonth.range(x.invert(opts.left), x.invert(opts.right));
  var xAxis = g.append("g").attr("transform", "translate(0,685)")
    .call(d3.axisBottom(x).tickValues(minor).tickSize(3).tickFormat(""));
  xAxis.select(".domain").attr("d", "M" + opts.left + ",0H" + opts.right).attr("stroke", "#eee").attr("stroke-width", 1.5);
  xAxis.selectAll(".tick line").attr("stroke", "#e2e2e2");

  var yearAxis = g.append("g").attr("transform", "translate(0,685)")
    .call(d3.axisBottom(x).tickValues(yearTicks.map(function(d) { return new Date(d, 0, 1); }))
      .tickSize(7).tickPadding(11).tickFormat(d3.timeFormat("%Y")));
  yearAxis.select(".domain").remove();
  yearAxis.selectAll(".tick line").attr("stroke", "#dcdcdc");
  yearAxis.selectAll("text").attr("class", "tick-label").attr("fill", null).style("font-size", "17px");

  // y tick labels, tableau pushes the top one down inside the pane
  var yAxis = g.append("g").attr("transform", "translate(" + opts.labelX + ",0)")
    .call(d3.axisLeft(y).tickValues(opts.ticks).tickSize(0).tickPadding(0).tickFormat(opts.format));
  yAxis.select(".domain").remove();
  yAxis.selectAll("text").attr("class", "tick-label").attr("fill", null).style("font-size", "17px")
    .attr("transform", function(d) { return "translate(0," + (opts.nudge && d === opts.nudge[0] ? opts.nudge[1] : 1) + ")"; });

  // zero line
  g.append("line").attr("x1", opts.left).attr("x2", opts.right).attr("y1", y(0)).attr("y2", y(0))
    .attr("stroke", "#9a9a9a").attr("stroke-width", 1).attr("stroke-dasharray", "1.5,1.5");

  var line = d3.line()
    .x(function(d, i) { return x(months[i]); })
    .y(function(d) { return y(d); });

  opts.series.forEach(function(values, i) {
    g.append("path").datum(values)
      .attr("d", line)
      .attr("fill", "none")
      .attr("stroke", lineColors[i])
      .attr("stroke-width", 4.2)
      .attr("stroke-linecap", "round")
      .attr("stroke-linejoin", "round");
  });

  svg.append("text").attr("class", "axis-title")
    .attr("transform", "translate(" + opts.titleX + ",565) rotate(-90)")
    .attr("text-anchor", "middle").attr("dy", "0.35em").text(opts.yTitle);
  svg.append("text").attr("class", "bold-label").attr("x", opts.xTitleX).attr("y", 742)
    .attr("text-anchor", "middle").attr("dy", "0.35em").style("font-weight", 500).style("font-size", "16.3px")
    .text("Month of Date");
}

title(23, 420.5, "Percent Death Count Per Country");
lineChart({
  x2020: 132.3, x2023: 745.8, left: 94.6, right: 904,
  domain: [-0.0202, 0.3594], ticks: deathTicks, format: d3.format(".1f"),
  series: deathSeries, labelX: 84,
  yTitle: "Avg. Percent Population Death", titleX: 39.5, xTitleX: 498
});

title(920, 420.5, "Percent Population Infection Timeline");
lineChart({
  x2020: 1025.6, x2023: 1642, left: 987, right: 1801,
  domain: [-3.44, 61.2], ticks: infectionTicks, format: d3.format("d"),
  series: infSeries, labelX: 978, nudge: [60, 9],
  yTitle: "Avg. Percent Population Infec..", titleX: 938, xTitleX: 1394
});

// colour legend of the timeline, cut off by its scroll area in the original
defs.append("clipPath").attr("id", "legend-clip").append("rect")
  .attr("x", 1005).attr("y", 460).attr("width", 140).attr("height", 129);

svg.append("text").attr("class", "bold-label").attr("x", 1086.5).attr("y", 452).attr("dy", "0.35em")
  .attr("text-anchor", "middle").style("font-size", "15px").text("Location");

var legendY = d3.scaleBand().domain(legendNames).range([461, 599]).padding(0);
var legendG = svg.append("g").attr("clip-path", "url(#legend-clip)");
legendNames.forEach(function(name) {
  legendG.append("rect").attr("x", 1012.8).attr("y", legendY(name) + 4).attr("width", 20.3).attr("height", 20)
    .attr("fill", lineColors[lineNames.indexOf(name)]);
  legendG.append("text").attr("class", "tick-label").attr("x", 1040).attr("y", legendY(name) + 14.5).attr("dy", "0.35em")
    .style("font-size", "16.7px").text(name);
});
</script>
</body>
</html>
